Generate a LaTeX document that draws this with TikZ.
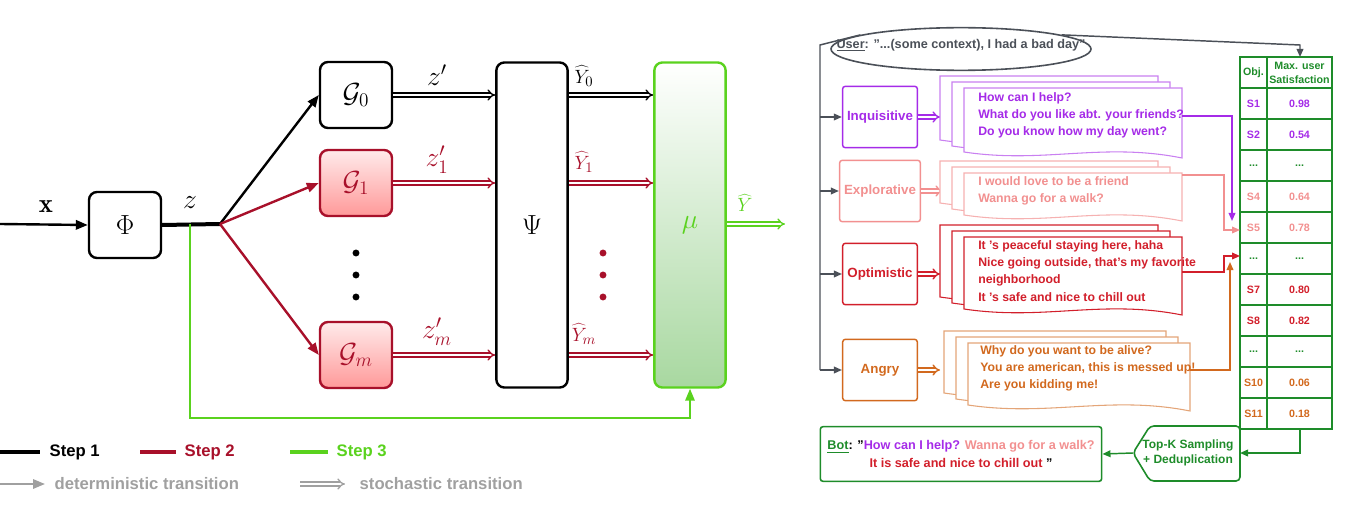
\documentclass[tikz,border=0pt]{standalone}
\usepackage{fontspec}
\setsansfont{Liberation Sans}
\usetikzlibrary{arrows.meta,shapes.geometric}
\definecolor{cpur}{HTML}{A52BE8}
\definecolor{cpink}{HTML}{F29090}
\definecolor{cred}{HTML}{D21F2B}
\definecolor{cora}{HTML}{D2691E}
\definecolor{cgrn}{HTML}{1E8C2A}
\definecolor{lgrn}{HTML}{5AD21E}
\definecolor{mugrn}{HTML}{A8D8A0}
\definecolor{dred}{HTML}{A8102A}
\definecolor{cgray}{HTML}{4B5058}
\definecolor{lgray}{HTML}{A0A0A0}
\newcommand\mydots{...}
\newcommand\mydoc[5]{\draw[#5,fill=white,line width=0.8pt] (#1,#2) -- (#3,#2) -- (#3,#4) .. controls +(-80,-16) and +(80,12) .. (#1,#4-6) -- cycle;}
\newcommand\mystack[5]{%
 \mydoc{#1}{#2}{#1+#3}{#2+#4}{#5}
 \mydoc{#1+12}{#2+6}{#1+#3+12}{#2+#4+6}{#5}
 \mydoc{#1+24}{#2+12}{#1+#3+24}{#2+#4+12}{#5}}
\begin{document}
\begin{tikzpicture}[x=0.75pt,y=-0.75pt,
 bx/.style={draw,rounded corners=6pt,line width=1.8pt,minimum width=54pt,minimum height=49.5pt,inner sep=0pt,font=\fontsize{20}{24}\selectfont},
 tall/.style={bx,minimum width=53.5pt,minimum height=243.75pt},
 thk/.style={line width=1.8pt,-{Triangle[length=9pt,width=7pt]}},
 dbl/.style={double=white,double distance=1.8pt,line width=1pt,-{Implies}},
 lab/.style={font=\fontsize{20}{24}\selectfont},
 ylab/.style={font=\fontsize{15}{18}\selectfont},
 leg/.style={font=\sffamily\bfseries\fontsize{12.5}{15}\selectfont,anchor=west},
 sbox/.style={draw,line width=1.1pt,rounded corners=2pt,minimum width=56pt,minimum height=46pt,font=\sffamily\bfseries\fontsize{10}{12}\selectfont},
 dtxt/.style={anchor=north west,align=left,inner sep=0pt,font=\sffamily\bfseries\fontsize{9.2}{13}\selectfont},
 gar/.style={cgray,line width=1.1pt,-{Triangle[length=6pt,width=5pt]}},
 cell/.style={font=\sffamily\bfseries\fontsize{8}{10}\selectfont,inner sep=0pt}]
\useasboundingbox (0,0) rectangle (1360,506);
% ---------- left diagram ----------
\node[bx] (phi) at (125,225) {$\Phi$};
\node[bx] (g0) at (356,95) {$\mathcal{G}_0$};
\node[bx,draw=dred,top color=red!8,bottom color=red!40,text=dred] (g1) at (356,183) {$\mathcal{G}_1$};
\node[bx,draw=dred,top color=red!8,bottom color=red!40,text=dred] (gm) at (356,355) {$\mathcal{G}_m$};
\node[tall] (psi) at (532,225) {$\Psi$};
\node[tall,draw=lgrn,top color=white,bottom color=mugrn,text=lgrn] (mu) at (690,225) {$\mu$};
\coordinate (xin) at (0,224);
\coordinate (j) at (220,224);
\coordinate (gz) at (190,224);
\draw[thk] (xin) -- (phi.west);
\node[lab] (xl) at (46,207) {$\mathbf{x}$};
\draw[line width=3pt] (phi.east) -- (j);
\node[lab] (zl) at (190,203) {$z$};
\draw[thk] (j) -- (g0.west);
\draw[thk,dred] (j) -- (g1.west);
\draw[thk,dred] (j) -- (gm.west);
\draw[line width=1.6pt,lgrn,-{Triangle[length=9pt,width=7pt]}] (gz) -- (190,418) -- (690,418) -- (mu.south);
\node[lab] (z0) at (437,75) {$z'$};
\node[lab,dred] (z1) at (437,160) {$z'_1$};
\node[lab,dred] (zm) at (437,332) {$z'_m$};
\draw[dbl] (g0.east) -- (psi.west|-g0.east);
\draw[dbl,dred] (g1.east) -- (psi.west|-g1.east);
\draw[dbl,dred] (gm.east) -- (psi.west|-gm.east);
\node[ylab] (y0) at (584,76) {$\widehat{Y}_0$};
\node[ylab,dred] (y1) at (584,162) {$\widehat{Y}_1$};
\node[ylab,dred] (ym) at (584,334) {$\widehat{Y}_m$};
\draw[dbl] (psi.east|-g0.east) -- (mu.west|-g0.east);
\draw[dbl,dred] (psi.east|-g1.east) -- (mu.west|-g1.east);
\draw[dbl,dred] (psi.east|-gm.east) -- (mu.west|-gm.east);
\coordinate (yout) at (785,224);
\draw[dbl,lgrn] (mu.east|-yout) -- (yout);
\node[ylab,lgrn] (yh) at (745,203) {$\widehat{Y}$};
\foreach \yy in {253,275,297}{
 \fill (356,\yy) circle (2.6pt);
 \fill[dred] (603,\yy) circle (2.6pt);}
% legend
\draw[line width=2.6pt] (0,452) -- (40,452);
\node[leg] (s1) at (45,452) {Step 1};
\draw[line width=2.6pt,dred] (140,452) -- (176,452);
\node[leg,dred] (s2) at (180,452) {Step 2};
\draw[line width=2.6pt,lgrn] (290,452) -- (328,452);
\node[leg,lgrn] (s3) at (332,452) {Step 3};
\draw[line width=1.6pt,lgray,-{Triangle[length=9pt,width=7pt]}] (0,484) -- (45,484);
\node[leg,lgray] (d1) at (50,484) {deterministic transition};
\draw[dbl,lgray] (300,484) -- (345,484);
\node[leg,lgray] (d2) at (355,484) {stochastic transition};
% ---------- right diagram ----------
\node[draw=cgray,line width=1.2pt,ellipse,minimum width=195pt,minimum height=32pt] (user) at (961,49) {};
\node[font=\sffamily\bfseries\fontsize{9.5}{11}\selectfont,text=cgray] (ut) at (961,45) {\underline{User}: "...(some context), I had a bad day"};
\node[sbox,cpur] (inq) at (880,117) {Inquisitive};
\node[sbox,cpink] (exp) at (880,191) {Explorative};
\node[sbox,cred] (opt) at (880,274) {Optimistic};
\node[sbox,cora] (ang) at (880,370) {Angry};
\coordinate (tl) at (820,45);
\draw[cgray,line width=1.1pt] (user.172) -- (tl) -- (820,370);
\draw[gar] (820,117) -- (inq.west);
\draw[gar] (820,191) -- (exp.west);
\draw[gar] (820,274) -- (opt.west);
\draw[gar] (820,370) -- (ang.west);
\draw[dbl,cpur] (inq.east) -- +(22,0);
\draw[dbl,cpink] (exp.east) -- +(22,0);
\draw[dbl,cred] (opt.east) -- +(22,0);
\draw[dbl,cora] (ang.east) -- +(22,0);
\mystack{940}{76}{218}{70}{cpur!60}
\mystack{940}{161}{218}{48}{cpink!70}
\mystack{940}{225}{218}{78}{cred}
\mystack{944}{331}{222}{68}{cora!60}
\node[dtxt,cpur] (ti) at (978,92) {How can I help?\\What do you like abt. your friends?\\Do you know how my day went?};
\node[dtxt,cpink] (te) at (978,176) {I would love to be a friend\\Wanna go for a walk?};
\node[dtxt,cred] (to) at (978,240) {It 's peaceful staying here, haha\\Nice going outside, that's my favorite\\neighborhood\\It 's safe and nice to chill out};
\node[dtxt,cora] (ta) at (980,345) {Why do you want to be alive?\\You are american, this is messed up!\\Are you kidding me!};
% table
\draw[cgrn,line width=1.2pt] (1240,57) rectangle (1332,429);
\draw[cgrn,line width=1.2pt] (1267,57) -- (1267,429);
\node[cell,cgrn] (h1) at (1253.5,73) {Obj.};
\node[cell,cgrn,align=center] (h2) at (1299.5,73) {Max. user\\Satisfaction};
\foreach \i/\a/\b/\c in {0/S1/0.98/cpur,1/S2/0.54/cpur,2/\mydots/\mydots/cgrn,3/S4/0.64/cpink,4/S5/0.78/cpink,5/\mydots/\mydots/cgrn,6/S7/0.80/cred,7/S8/0.82/cred,8/\mydots/\mydots/cgrn,9/S10/0.06/cora,10/S11/0.18/cora}{
 \draw[cgrn,line width=1.2pt] (1240,88+31*\i) -- (1332,88+31*\i);
 \node[cell,text=\c] (oa\i) at (1253.5,103.5+31*\i) {\a};
 \node[cell,text=\c] (ob\i) at (1299.5,103.5+31*\i) {\b};}
\draw[cgray,line width=1.1pt,-{Triangle[length=6pt,width=5pt]}] (user.8) -- (1300,45) -- (1300,57);
\coordinate (ir) at (1182,116);
\coordinate (er) at (1182,175);
\coordinate (or) at (1182,272);
\coordinate (ar) at (1190,370);
\draw[cpur,line width=1.1pt,-{Triangle[length=6pt,width=5pt]}] (ir) -- (1232,116) -- (1232,221);
\draw[cpink,line width=1.1pt,-{Triangle[length=6pt,width=5pt]}] (er) -- (1224,175) -- (1224,230) -- (1240,230);
\draw[cred,line width=1.1pt,-{Triangle[length=6pt,width=5pt]}] (or) -- (1224,272) -- (1224,256) -- (1240,256);
\draw[cora,line width=1.1pt,-{Triangle[length=6pt,width=5pt]}] (ar) -- (1230,370) -- (1230,262);
% top-k and bot
\draw[cgrn,line width=1.2pt,rounded corners=3pt] (1240,426) -- (1150,426) -- (1133,453) -- (1150,481) -- (1240,481) -- cycle;
\node[font=\sffamily\bfseries\fontsize{9}{11}\selectfont,text=cgrn,align=center] (topk) at (1188,453) {Top-K Sampling\\+ Deduplication};
\coordinate (tkl) at (1133,453);
\coordinate (tkr) at (1240,453);
\draw[cgrn,line width=1.1pt,-{Triangle[length=6pt,width=5pt]}] (1300,429) -- (1300,453) -- (tkr);
\node[draw=cgrn,line width=1.2pt,rounded corners=2pt,minimum width=211pt,minimum height=41pt,align=center,font=\sffamily\bfseries\fontsize{9.5}{13}\selectfont] (bot) at (961,454) {\textcolor{cgrn}{\underline{Bot}}: "\textcolor{cpur}{How can I help?} \textcolor{cpink}{Wanna go for a walk?}\\\textcolor{cred}{It is safe and nice to chill out} "};
\draw[cgrn,line width=1.1pt,-{Triangle[length=6pt,width=5pt]}] (tkl) -- (bot.east);
\end{tikzpicture}
\end{document}
